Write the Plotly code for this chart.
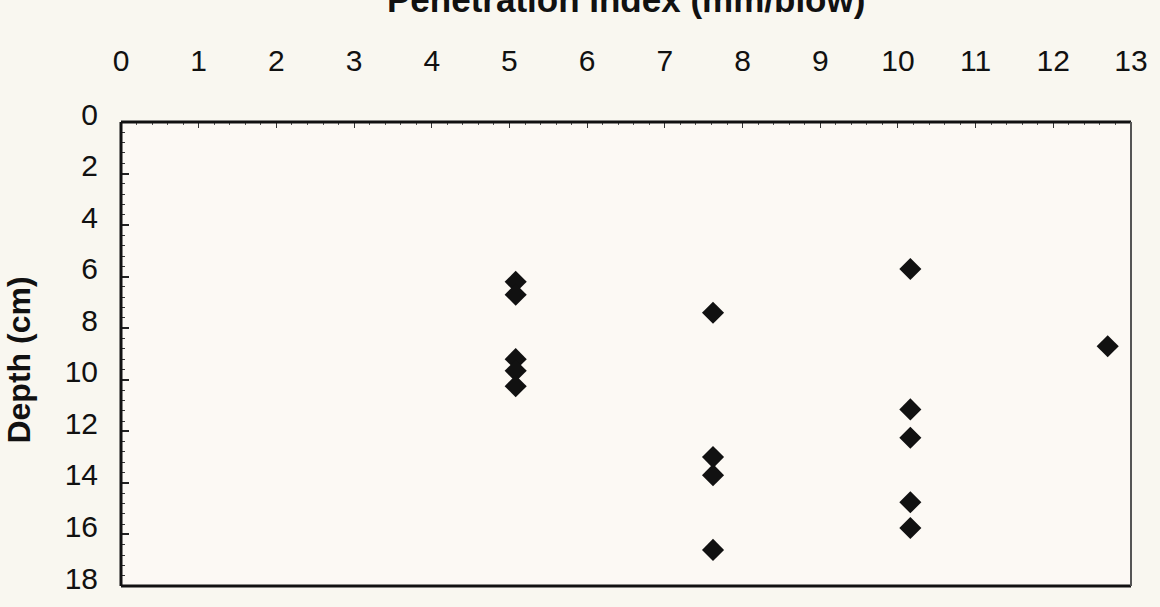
import plotly.graph_objects as go

# Data
penetration_index = [5.08, 5.08, 5.08, 5.08, 5.08,
                     7.62, 7.62, 7.62, 7.62,
                     10.16, 10.16, 10.16, 10.16, 10.16,
                     12.7]
depth_cm = [6.2, 6.7, 9.2, 9.65, 10.25,
            7.4, 13.0, 13.7, 16.6,
            5.7, 11.15, 12.25, 14.75, 15.75,
            8.7]
x_ticks = list(range(0, 14))
y_ticks = list(range(0, 19, 2))

FONT = "Liberation Sans, Arial, sans-serif"

fig = go.Figure()
fig.add_trace(go.Scatter(
    x=penetration_index, y=depth_cm, mode="markers",
    marker=dict(symbol="diamond", size=17, color="#111111",
                line=dict(width=0)),
    showlegend=False, hoverinfo="x+y"))

fig.update_layout(
    width=1160, height=607,
    margin=dict(l=121, r=29, t=122, b=21),
    paper_bgcolor="#f9f7f0",
    plot_bgcolor="#fcf9f4",
    font=dict(family=FONT, size=30, color="#111111"),
    xaxis=dict(
        side="top", range=[0, 13], tickvals=x_ticks,
        showgrid=False, zeroline=False, showline=False,
        ticks="inside", ticklen=6, tickwidth=1, tickcolor="#333",
        minor=dict(dtick=0.2, ticks="inside", ticklen=3, tickcolor="#555", tickwidth=1),
        ticklabelstandoff=44,
        tickfont=dict(family=FONT, size=30, color="#111111"),
    ),
    yaxis=dict(
        range=[18, 0], tickvals=y_ticks,
        showgrid=False, zeroline=False, showline=False,
        ticks="inside", ticklen=8, tickwidth=1.5, tickcolor="#222",
        minor=dict(dtick=0.4, ticks="inside", ticklen=4, tickcolor="#333", tickwidth=1),
        ticklabelstandoff=22, ticklabelshift=8,
        tickfont=dict(family=FONT, size=30, color="#111111"),
    ),
    shapes=[
        dict(type="line", xref="paper", yref="paper", x0=0, x1=1, y0=1, y1=1,
             line=dict(color="#111111", width=3)),
        dict(type="line", xref="paper", yref="paper", x0=0, x1=1, y0=0, y1=0,
             line=dict(color="#111111", width=3)),
        dict(type="line", xref="paper", yref="paper", x0=0, x1=0, y0=0, y1=1,
             line=dict(color="#111111", width=3)),
        dict(type="line", xref="paper", yref="paper", x0=1, x1=1, y0=0, y1=1,
             line=dict(color="#555555", width=2)),
    ],
    annotations=[
        dict(text="<b>Penetration Index (mm/blow)</b>", xref="paper", yref="paper",
             x=0.5, y=1.263, xanchor="center", yanchor="middle", showarrow=False,
             font=dict(family=FONT, size=35, color="#111111")),
        dict(text="<b>Depth (cm)</b>", xref="paper", yref="paper",
             x=-0.101, y=0.488, xanchor="center", yanchor="middle", showarrow=False,
             textangle=-90, font=dict(family=FONT, size=32, color="#111111")),
    ],
)

fig.write_html("out.html",
               config={"displayModeBar": False},
               post_script="document.body.style.margin='0px';document.body.style.background='#f9f7f0';")
